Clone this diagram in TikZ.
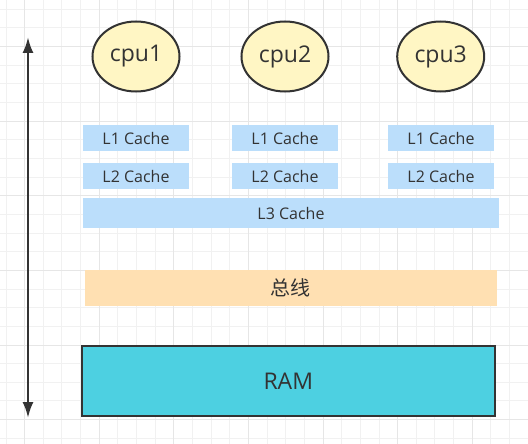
\documentclass[tikz,border=0pt]{standalone}
\usepackage{fontspec}
\setmainfont{Open Sans}
\newfontfamily\cjkfont{Noto Sans CJK SC}
\usepackage{xcolor}
\usepackage{tikz}
\usetikzlibrary{shapes.geometric, arrows.meta, positioning}

\definecolor{cpuyellow}{HTML}{FFF6C4}
\definecolor{cacheblue}{HTML}{BBDEFB}
\definecolor{busorange}{HTML}{FFE0B2}
\definecolor{ramcyan}{HTML}{4DD0E1}
\definecolor{darkline}{HTML}{333333}
\definecolor{gridminor}{HTML}{F1F1F1}
\definecolor{gridmajor}{HTML}{E6E6E6}

\tikzstyle{cpu} = [ellipse, draw=darkline, line width=2pt, fill=cpuyellow, text=darkline,
    minimum width=87pt, minimum height=70pt, inner sep=0pt, font=\fontsize{23}{25}\selectfont]
\tikzstyle{cache} = [rectangle, fill=cacheblue, text=darkline, minimum width=106pt,
    minimum height=25.4pt, inner sep=0pt, font=\fontsize{16}{18}\selectfont]
\tikzstyle{arrow} = [line width=2.5pt, darkline, {Latex[length=16pt,width=11pt]}-{Latex[length=16pt,width=11pt]}]

\begin{document}
\begin{tikzpicture}[x=1pt, y=-1pt]
    \useasboundingbox[fill=white] (0,0) rectangle (528,444);

    % Grid
    \foreach \i in {0,...,28} {
        \draw[gridminor, line width=1pt] (6+18.65*\i, 0) -- (6+18.65*\i, 444);
    }
    \foreach \i in {0,...,23} {
        \draw[gridminor, line width=1pt] (0, 9.3+18.65*\i) -- (528, 9.3+18.65*\i);
    }
    \foreach \i in {0,...,6} {
        \draw[gridmajor, line width=1pt] (24.65+74.6*\i, 0) -- (24.65+74.6*\i, 444);
        \draw[gridmajor, line width=1pt] (0, 46.6+74.6*\i) -- (528, 46.6+74.6*\i);
    }

    % CPUs
    \node[cpu] (cpu1) at (136, 56.5) {cpu1};
    \node[cpu] (cpu2) at (285, 56.5) {cpu2};
    \node[cpu] (cpu3) at (440.7, 56.5) {cpu3};

    % L1 / L2
    \node[cache] (l1a) at (136, 138) {L1 Cache};
    \node[cache] (l1b) at (285, 138) {L1 Cache};
    \node[cache] (l1c) at (441, 138) {L1 Cache};
    \node[cache] (l2a) at (136, 176) {L2 Cache};
    \node[cache] (l2b) at (285, 176) {L2 Cache};
    \node[cache] (l2c) at (441, 176) {L2 Cache};

    % L3
    \node[cache, minimum width=416pt, minimum height=29.7pt] (l3) at (291, 213.2) {L3 Cache};

    % Bus
    \node[rectangle, fill=busorange, text=darkline, minimum width=412pt, minimum height=36pt,
        inner sep=0pt, font=\cjkfont\fontsize{20}{22}\selectfont] (bus) at (290.5, 288) {总线};

    % RAM
    \node[rectangle, draw=darkline, line width=2pt, fill=ramcyan, text=darkline,
        minimum width=412.7pt, minimum height=70.3pt, inner sep=0pt,
        font=\fontsize{23}{25}\selectfont] (ram) at (288.3, 381.2) {RAM};

    % Speed arrow
    \coordinate (fast) at (28, 37);
    \coordinate (slow) at (28, 418);
    \draw[arrow] (fast) -- (slow);
\end{tikzpicture}
\end{document}
